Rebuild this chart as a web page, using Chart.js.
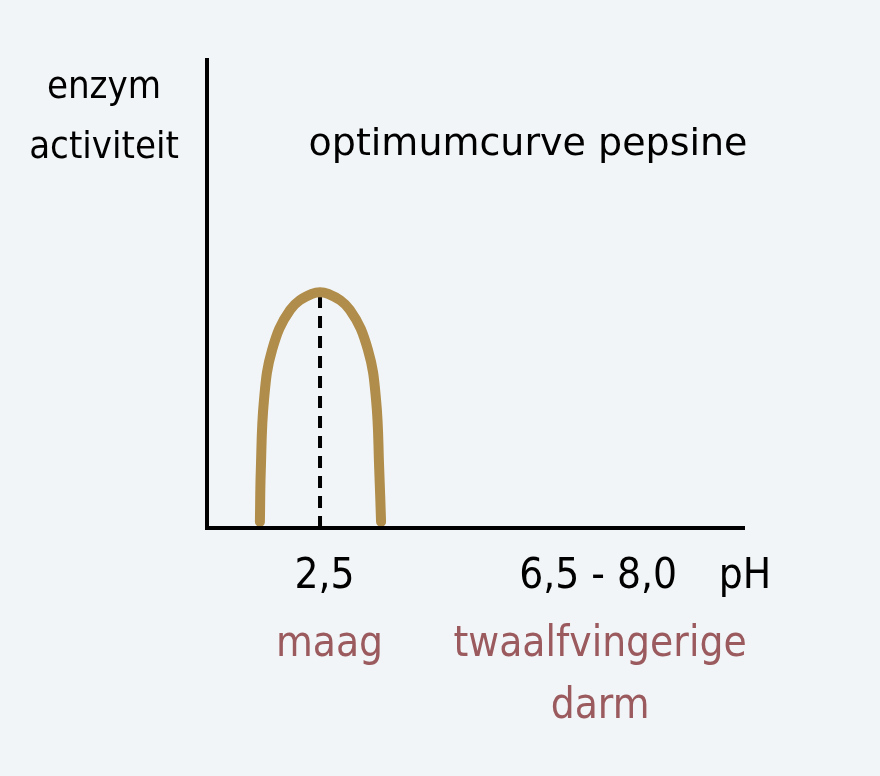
<!DOCTYPE html>
<html><head><meta charset="utf-8">
<script src="https://cdn.jsdelivr.net/npm/chart.js@4"></script>
<style>html,body{margin:0;padding:0;background:#f2f5f7;}canvas{display:block;}</style>
</head><body>
<canvas id="c" width="880" height="776"></canvas>
<script>
const curveX = [1.17,1.19,1.26,1.44,1.84,2.32,2.68,3.16,3.56,3.74,3.81,3.85];
const curveY = [1.3,12.3,27.2,37.9,46.4,49.8,49.8,46.4,37.9,27.2,12.3,1.3];
const optimumPH = 2.5;
const peakValue = 50;
const tickValues = [2.6, 8.65];
const tickLabels = ["2,5", "6,5 - 8,0"];
const organLabels = [["maag"], ["twaalfvingerige", "darm"]];
const title = "optimumcurve pepsine";
const yTitle = ["enzym", "activiteit"];
const xTitle = "pH";

const annot = {
  id: 'annot',
  afterDraw(chart) {
    const {ctx, chartArea: a, scales: {x}} = chart;
    ctx.save();
    ctx.strokeStyle = '#000'; ctx.lineWidth = 4; ctx.lineCap = 'butt';
    ctx.beginPath();
    ctx.moveTo(a.left, a.top); ctx.lineTo(a.left, a.bottom);
    ctx.moveTo(a.left - 2, a.bottom); ctx.lineTo(a.right, a.bottom);
    ctx.stroke();
    ctx.textAlign = 'center'; ctx.textBaseline = 'middle';
    ctx.fillStyle = '#000';
    ctx.font = '38px "Liberation Sans Narrow", "DejaVu Sans Condensed", sans-serif';
    ctx.fillText(yTitle[0], 104, 88);
    ctx.fillText(yTitle[1], 104, 148);
    ctx.font = '38px "DejaVu Sans", sans-serif';
    ctx.fillText(title, 528, 145);
    ctx.font = '42px "Liberation Sans Narrow", "DejaVu Sans Condensed", sans-serif';
    tickValues.forEach((v, i) => ctx.fillText(tickLabels[i], x.getPixelForValue(v), 577));
    ctx.fillText(xTitle, 745, 577);
    ctx.fillStyle = '#9a5a5e';
    tickValues.forEach((v, i) => organLabels[i].forEach((t, j) =>
      ctx.fillText(t, x.getPixelForValue(v) + (i === 0 ? 5 : 2), 645 + j * 62)));
    ctx.restore();
  }
};

new Chart(document.getElementById('c'), {
  type: 'scatter',
  data: {
    datasets: [
      { data: curveX.map((v, i) => ({x: v, y: curveY[i]})), showLine: true, tension: 0.4,
        borderColor: '#b08d4a', borderWidth: 10, borderCapStyle: 'round', pointRadius: 0 },
      { data: [{x: optimumPH, y: 0}, {x: optimumPH, y: peakValue}], showLine: true,
        borderColor: '#000', borderWidth: 4, borderDash: [12, 8], pointRadius: 0 }
    ]
  },
  options: {
    responsive: false, animation: false,
    layout: { padding: { left: 207, right: 135, top: 58, bottom: 248 } },
    plugins: { legend: { display: false }, tooltip: { enabled: false } },
    scales: {
      x: { type: 'linear', min: 0, max: 11.9, display: false },
      y: { min: 0, max: 100, display: false }
    }
  },
  plugins: [annot]
});
</script>
</body></html>
